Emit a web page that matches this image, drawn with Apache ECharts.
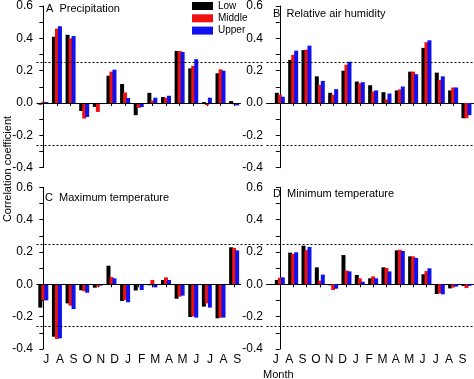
<!DOCTYPE html>
<html><head><meta charset="utf-8">
<script src="https://cdn.jsdelivr.net/npm/echarts@6/dist/echarts.min.js"></script>
<style>html,body{margin:0;padding:0;background:#fff}#c{width:474px;height:379px}</style>
</head><body><div id="c"></div>
<script>
// ---- data ----
const months = ['J','A','S','O','N','D','J','F','M','A','M','J','J','A','S'];
const seriesNames = ['Low','Middle','Upper'];
const seriesColors = ['#000000','#ee1111','#1111ee'];
const panelTitles = ['A  Precipitation','B  Relative air humidity','C  Maximum temperature','D  Minimum temperature'];
const yMin = -0.4, yMax = 0.6, yStep = 0.2;
const thresholds = [0.25, -0.255];

const precipLow = [-0.01, 0.41, 0.422, -0.049, -0.024, 0.169, 0.118, -0.075, 0.063, 0.037, 0.322, 0.214, 0.006, 0.184, 0.012];
const precipMid = [0.008, 0.46, 0.40, -0.096, -0.055, 0.194, 0.065, -0.03, 0.016, 0.033, 0.322, 0.23, -0.014, 0.208, -0.008];
const precipUp  = [0.006, 0.475, 0.414, -0.086, -0.006, 0.206, 0.031, -0.025, 0.033, 0.045, 0.316, 0.271, 0.033, 0.2, -0.015];

const humLow = [0.063, 0.267, 0.327, 0.165, 0.063, 0.2, 0.133, 0.11, 0.067, 0.078, 0.194, 0.341, 0.188, 0.078, -0.094];
const humMid = [0.051, 0.298, 0.33, 0.112, 0.051, 0.237, 0.122, 0.071, 0.022, 0.084, 0.194, 0.376, 0.143, 0.096, -0.094];
const humUp  = [0.039, 0.324, 0.355, 0.137, 0.086, 0.255, 0.129, 0.078, 0.059, 0.102, 0.178, 0.388, 0.165, 0.096, -0.075];

const tmaxLow = [-0.144, -0.324, -0.118, -0.037, -0.021, 0.115, -0.103, -0.038, -0.006, 0.027, -0.089, -0.202, -0.138, -0.21, 0.229];
const tmaxMid = [-0.099, -0.338, -0.132, -0.043, -0.014, 0.045, -0.097, -0.005, 0.027, 0.043, -0.076, -0.198, -0.118, -0.206, 0.225];
const tmaxUp  = [-0.099, -0.334, -0.153, -0.052, -0.008, 0.037, -0.111, -0.035, -0.019, 0.027, -0.07, -0.206, -0.144, -0.206, 0.21];

const tminLow = [0.027, 0.196, 0.239, 0.105, -0.006, 0.181, 0.058, 0.037, 0.105, 0.21, 0.173, 0.062, -0.06, -0.025, -0.01];
const tminMid = [0.041, 0.188, 0.212, 0.023, -0.035, 0.085, 0.037, 0.049, 0.101, 0.214, 0.173, 0.082, -0.056, -0.019, -0.023];
const tminUp  = [0.043, 0.198, 0.231, 0.06, -0.027, 0.08, 0.016, 0.037, 0.08, 0.206, 0.163, 0.099, -0.062, -0.014, -0.01];

const panelData = [
  [precipLow, precipMid, precipUp],
  [humLow, humMid, humUp],
  [tmaxLow, tmaxMid, tmaxUp],
  [tminLow, tminMid, tminUp]
];

// ---- layout ----
const idx = months.map((m, i) => i);
const leftW = 227.5, leftMin = -0.5, leftMax = -0.5 + 227.5 / 13.63;
const rightW = 207, rightMin = -1, rightMax = -1 + 207 / 13.33;
const grids = [
  {left: 36.5, top: 4.2, width: leftW, height: 163.5},
  {left: 266.5, top: 4.2, width: rightW, height: 163.5},
  {left: 36.5, top: 187.3, width: leftW, height: 161.7},
  {left: 266.5, top: 187.3, width: rightW, height: 161.7}
];
const isLeft = p => p === 0 || p === 2;

const xAxes = [], yAxes = [], series = [];
for (let p = 0; p < 4; p++) {
  xAxes.push({
    type: 'value', gridIndex: p, position: 'bottom',
    min: isLeft(p) ? leftMin : rightMin, max: isLeft(p) ? leftMax : rightMax,
    axisLine: {show: !isLeft(p), onZero: true, lineStyle: {color: '#000', width: 1}},
    axisTick: {show: true, customValues: idx, length: 3, lineStyle: {color: '#000', width: 1}},
    axisLabel: {show: false},
    splitLine: {show: false}
  });
  yAxes.push({
    type: 'value', gridIndex: p, min: yMin, max: yMax, interval: yStep,
    axisLine: {show: true, lineStyle: {color: '#000', width: 1}},
    axisTick: {show: true, length: 4, lineStyle: {color: '#000'}},
    minorTick: {show: true, splitNumber: 2, length: 4, lineStyle: {color: '#000'}},
    axisLabel: {formatter: v => v.toFixed(1), fontSize: 12, color: '#000', margin: 3.5},
    splitLine: {show: false}, minorSplitLine: {show: false}
  });
}
// label-only axes for bottom panels
[2, 3].forEach(p => {
  xAxes.push({
    type: 'value', gridIndex: p, position: 'bottom',
    min: isLeft(p) ? leftMin : rightMin, max: isLeft(p) ? leftMax : rightMax,
    axisLine: {show: false, onZero: false},
    axisTick: {show: false},
    axisLabel: {show: true, customValues: idx, formatter: v => months[Math.round(v)],
      fontSize: 12, color: '#000', margin: 5,
      padding: p === 2 ? [0, 0, 0, 6] : [0, 8, 0, 0]},
    splitLine: {show: false}
  });
});

for (let p = 0; p < 4; p++) {
  for (let s = 0; s < 3; s++) {
    const ser = {
      type: 'bar', name: seriesNames[s], xAxisIndex: p, yAxisIndex: p,
      data: panelData[p][s].map((v, i) => [i, v]),
      barWidth: 4, barGap: '-25%',
      itemStyle: {color: seriesColors[s]},
      z: 2 + s
    };
    if (s === 0) {
      ser.markLine = {
        silent: true, symbol: 'none', label: {show: false},
        lineStyle: {type: [2, 2], color: '#000', width: 1},
        data: thresholds.map(t => ({yAxis: t}))
      };
    }
    if (s === 1 && isLeft(p)) {
      ser.markLine = {
        silent: true, symbol: 'none', label: {show: false},
        lineStyle: {type: 'solid', color: '#000', width: 1},
        data: [[{coord: [leftMin, 0]}, {coord: [months.length - 0.5, 0]}]]
      };
    }
    series.push(ser);
  }
}

const titlePos = [[46, 3.5], [273, 8], [45, 192.5], [273, 188]];
const option = {
  animation: false,
  textStyle: {fontFamily: 'Liberation Sans'},
  grid: grids,
  xAxis: xAxes,
  yAxis: yAxes,
  series: series,
  legend: {
    data: seriesNames, orient: 'vertical', left: 192, top: 1, padding: 0,
    itemWidth: 21, itemHeight: 8, itemGap: 2.3, icon: 'rect',
    textStyle: {fontSize: 10, color: '#000', lineHeight: 10}, selectedMode: false
  },
  title: panelTitles.map((t, i) => ({
    text: t, left: titlePos[i][0], top: titlePos[i][1], padding: 0,
    textStyle: {fontSize: 11, fontWeight: 'normal', color: '#000', fontFamily: 'Liberation Sans'}
  })).concat([{
    text: 'Month', left: 263, top: 369, padding: 0,
    textStyle: {fontSize: 11, fontWeight: 'normal', color: '#000', fontFamily: 'Liberation Sans'}
  }]),
  graphic: [{
    type: 'text', x: 8, y: 169, rotation: Math.PI / 2,
    style: {text: 'Correlation coefficient', fontSize: 11, fill: '#000', fontFamily: 'Liberation Sans',
      align: 'center', verticalAlign: 'middle'}
  }]
};
const chart = echarts.init(document.getElementById('c'), null, {renderer: 'canvas'});
chart.setOption(option);
</script></body></html>
